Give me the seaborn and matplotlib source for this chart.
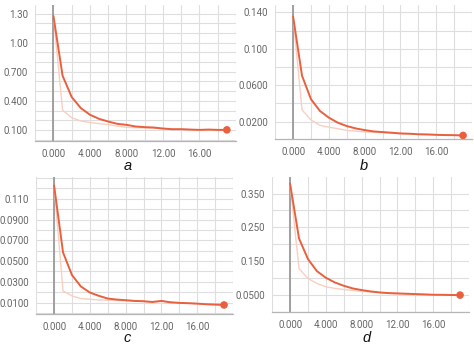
import matplotlib
matplotlib.use("Agg")
import matplotlib.pyplot as plt
import seaborn as sns
import pandas as pd
import numpy as np
from matplotlib.ticker import MultipleLocator

# ---- data ----
steps = list(range(20))

a_smooth = [1.276, 0.660, 0.439, 0.325, 0.256, 0.214, 0.186, 0.162, 0.152, 0.135,
            0.128, 0.124, 0.114, 0.107, 0.107, 0.103, 0.100, 0.103, 0.100, 0.100]
a_raw = [1.276, 0.305, 0.225, 0.192, 0.176, 0.165, 0.155, 0.138, 0.127, 0.122,
         0.120, 0.118, 0.110, 0.105, 0.106, 0.102, 0.099, 0.102, 0.099, 0.100]

b_smooth = [0.1356, 0.0704, 0.0447, 0.0318, 0.0244, 0.0189, 0.0152, 0.0126, 0.0108, 0.0093,
            0.0086, 0.0079, 0.0071, 0.0068, 0.0062, 0.0060, 0.0056, 0.0053, 0.0052, 0.0049]
b_raw = [0.1356, 0.0330, 0.0220, 0.0160, 0.0140, 0.0123, 0.0104, 0.0097, 0.0088, 0.0083,
         0.0080, 0.0075, 0.0069, 0.0066, 0.0060, 0.0059, 0.0055, 0.0052, 0.0051, 0.0049]

c_smooth = [0.1229, 0.0584, 0.0365, 0.0255, 0.0197, 0.0165, 0.0139, 0.0129, 0.0123, 0.0116,
            0.0113, 0.0106, 0.0116, 0.0103, 0.0097, 0.0094, 0.0090, 0.0084, 0.0081, 0.0077]
c_raw = [0.1229, 0.0213, 0.0165, 0.0139, 0.0132, 0.0126, 0.0123, 0.0120, 0.0118, 0.0114,
         0.0111, 0.0105, 0.0114, 0.0102, 0.0096, 0.0093, 0.0089, 0.0083, 0.0080, 0.0077]

d_smooth = [0.3795, 0.2173, 0.1563, 0.1208, 0.1012, 0.0874, 0.0775, 0.0697, 0.0648, 0.0608,
            0.0579, 0.0559, 0.0549, 0.0540, 0.0530, 0.0520, 0.0510, 0.0508, 0.0502, 0.0500]
d_raw = [0.3795, 0.1287, 0.0990, 0.0844, 0.0746, 0.0697, 0.0667, 0.0638, 0.0610, 0.0590,
         0.0570, 0.0552, 0.0544, 0.0536, 0.0527, 0.0518, 0.0509, 0.0506, 0.0501, 0.0500]

x_tick_vals = [0, 4, 8, 12, 16]
x_tick_labels = ["0.000", "4.000", "8.000", "12.00", "16.00"]

a_ytick_vals = [0.1, 0.4, 0.7, 1.0, 1.3]
a_ytick_labels = ["0.100", "0.400", "0.700", "1.00", "1.30"]
b_ytick_vals = [0.02, 0.06, 0.10, 0.14]
b_ytick_labels = ["0.0200", "0.0600", "0.100", "0.140"]
c_ytick_vals = [0.01, 0.03, 0.05, 0.07, 0.09, 0.11]
c_ytick_labels = ["0.0100", "0.0300", "0.0500", "0.0700", "0.0900", "0.110"]
d_ytick_vals = [0.05, 0.15, 0.25, 0.35]
d_ytick_labels = ["0.0500", "0.150", "0.250", "0.350"]

panel_letters = ["a", "b", "c", "d"]

# ---- style ----
sns.set_theme(style="white")
plt.rcParams["font.family"] = ["Roboto", "DejaVu Sans"]

MAIN = "#E9603E"
FAINT = "#F8CFC0"
GRID = "#DEDEDE"
TICK = "#B5B5B5"
TXT = "#666666"

fig = plt.figure(figsize=(4.74, 3.45), dpi=100)

panels = [
    dict(pos=[35/474, 1-141/345, 201/474, 136/345], sm=a_smooth, raw=a_raw,
         yv=a_ytick_vals, yl=a_ytick_labels, ylim=(-0.015, 1.39), minor=0.1),
    dict(pos=[275/474, 1-139/345, 197/474, 134/345], sm=b_smooth, raw=b_raw,
         yv=b_ytick_vals, yl=b_ytick_labels, ylim=(0.001, 0.148), minor=0.02),
    dict(pos=[36/474, 1-314/345, 197/474, 137/345], sm=c_smooth, raw=c_raw,
         yv=c_ytick_vals, yl=c_ytick_labels, ylim=(-0.001, 0.131), minor=0.01),
    dict(pos=[272/474, 1-312/345, 197/474, 135/345], sm=d_smooth, raw=d_raw,
         yv=d_ytick_vals, yl=d_ytick_labels, ylim=(0.0, 0.399), minor=0.05),
]

for p in panels:
    ax = fig.add_axes(p["pos"])
    df = pd.DataFrame({"step": steps, "smooth": p["sm"], "raw": p["raw"]})
    ax.xaxis.set_minor_locator(MultipleLocator(2))
    ax.yaxis.set_minor_locator(MultipleLocator(p["minor"]))
    ax.set_xticks(x_tick_vals, x_tick_labels)
    ax.set_yticks(p["yv"], p["yl"])
    ax.grid(True, which="both", color=GRID, lw=0.8, zorder=0)
    ax.set_axisbelow(True)
    for s in ["top", "right", "left"]:
        ax.spines[s].set_visible(False)
    ax.spines["bottom"].set_color(TICK)
    ax.spines["bottom"].set_linewidth(0.9)
    ax.tick_params(which="both", length=3, width=0.8, color=TICK,
                   labelsize=7, labelcolor=TXT, pad=2)
    ax.tick_params(axis="x", pad=3)
    ax.axvline(0, color="#9A9A9A", lw=1.3, zorder=1)
    sns.lineplot(data=df, x="step", y="raw", ax=ax, color=FAINT, lw=1.0, zorder=2)
    sns.lineplot(data=df, x="step", y="smooth", ax=ax, color=MAIN, lw=1.4, zorder=3)
    sns.scatterplot(data=df.iloc[[-1]], x="step", y="smooth", ax=ax, color=MAIN,
                    s=30, edgecolor="none", zorder=4)
    ax.set_xlabel("")
    ax.set_ylabel("")
    ax.set_xlim(-2.02, 20.0)
    ax.set_ylim(*p["ylim"])

letter_pos = [(128/474, 1-170/345), (364/474, 1-170/345),
              (127/474, 1-342/345), (367/474, 1-342/345)]
for letter, (x, y) in zip(panel_letters, letter_pos):
    fig.text(x, y, letter, ha="center", va="baseline", fontsize=10.5,
             style="italic", family=["Liberation Sans", "DejaVu Sans"], color="#111111")

fig.savefig("out.png", dpi=100)
